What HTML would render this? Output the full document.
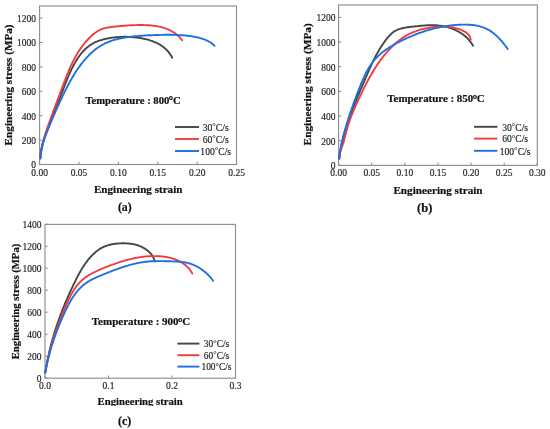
<!DOCTYPE html>
<html><head><meta charset="utf-8"><style>
html,body{margin:0;padding:0;background:#fff;}
svg{display:block;filter:blur(0.35px);font-family:"Liberation Serif","Times New Roman",serif;}
.n{fill:#222;stroke:#222;stroke-width:0.15px;}
.b{font-weight:bold;fill:#111;stroke:#111;stroke-width:0.2px;}
</style></head><body>
<svg width="550" height="429" viewBox="0 0 550 429">
<rect width="550" height="429" fill="#fff"/>
<defs><clipPath id="clipc"><rect x="0" y="0" width="550" height="405.7"/></clipPath></defs>
<rect x="39.6" y="6" width="196.90" height="158.50" fill="none" stroke="#8a8a8a" stroke-width="1.1"/>
<line x1="39.6" y1="164.50" x2="42.4" y2="164.50" stroke="#8a8a8a" stroke-width="1"/>
<text x="36.1" y="168.30" text-anchor="end" font-size="9.5" class="n">0</text>
<line x1="39.6" y1="140.10" x2="42.4" y2="140.10" stroke="#8a8a8a" stroke-width="1"/>
<text x="36.1" y="143.90" text-anchor="end" font-size="9.5" class="n">200</text>
<line x1="39.6" y1="115.70" x2="42.4" y2="115.70" stroke="#8a8a8a" stroke-width="1"/>
<text x="36.1" y="119.50" text-anchor="end" font-size="9.5" class="n">400</text>
<line x1="39.6" y1="91.30" x2="42.4" y2="91.30" stroke="#8a8a8a" stroke-width="1"/>
<text x="36.1" y="95.10" text-anchor="end" font-size="9.5" class="n">600</text>
<line x1="39.6" y1="66.90" x2="42.4" y2="66.90" stroke="#8a8a8a" stroke-width="1"/>
<text x="36.1" y="70.70" text-anchor="end" font-size="9.5" class="n">800</text>
<line x1="39.6" y1="42.50" x2="42.4" y2="42.50" stroke="#8a8a8a" stroke-width="1"/>
<text x="36.1" y="46.30" text-anchor="end" font-size="9.5" class="n">1000</text>
<line x1="39.6" y1="18.10" x2="42.4" y2="18.10" stroke="#8a8a8a" stroke-width="1"/>
<text x="36.1" y="21.90" text-anchor="end" font-size="9.5" class="n">1200</text>
<line x1="39.60" y1="161.7" x2="39.60" y2="164.5" stroke="#8a8a8a" stroke-width="1"/>
<text x="39.60" y="175.8" text-anchor="middle" font-size="9.5" class="n">0.00</text>
<line x1="79.00" y1="161.7" x2="79.00" y2="164.5" stroke="#8a8a8a" stroke-width="1"/>
<text x="79.00" y="175.8" text-anchor="middle" font-size="9.5" class="n">0.05</text>
<line x1="118.40" y1="161.7" x2="118.40" y2="164.5" stroke="#8a8a8a" stroke-width="1"/>
<text x="118.40" y="175.8" text-anchor="middle" font-size="9.5" class="n">0.10</text>
<line x1="157.80" y1="161.7" x2="157.80" y2="164.5" stroke="#8a8a8a" stroke-width="1"/>
<text x="157.80" y="175.8" text-anchor="middle" font-size="9.5" class="n">0.15</text>
<line x1="197.20" y1="161.7" x2="197.20" y2="164.5" stroke="#8a8a8a" stroke-width="1"/>
<text x="197.20" y="175.8" text-anchor="middle" font-size="9.5" class="n">0.20</text>
<line x1="236.60" y1="161.7" x2="236.60" y2="164.5" stroke="#8a8a8a" stroke-width="1"/>
<text x="236.60" y="175.8" text-anchor="middle" font-size="9.5" class="n">0.25</text>
<path d="M40.36,158.31 L40.4,157.6 L40.5,156.9 L40.6,156.1 L40.6,155.4 L40.7,154.7 L40.8,154.0 L40.9,153.3 L41.0,152.5 L41.1,151.8 L41.3,151.1 L41.4,150.4 L41.5,149.7 L41.7,149.0 L41.8,148.3 L41.9,147.6 L42.1,146.9 L42.3,146.2 L42.4,145.5 L42.6,144.8 L42.8,144.1 L42.9,143.4 L43.1,142.7 L43.3,142.0 L43.5,141.3 L43.7,140.6 L43.9,139.9 L44.1,139.2 L44.3,138.5 L44.5,137.8 L44.7,137.1 L45.0,136.5 L45.2,135.8 L45.4,135.1 L45.6,134.4 L45.9,133.7 L46.1,133.0 L46.3,132.4 L46.6,131.7 L46.8,131.0 L47.1,130.3 L47.3,129.6 L47.6,129.0 L47.8,128.3 L48.1,127.6 L48.3,126.9 L48.6,126.2 L48.8,125.6 L49.1,124.9 L49.4,124.2 L49.6,123.5 L49.9,122.9 L50.2,122.2 L50.4,121.5 L50.7,120.8 L50.9,120.2 L51.2,119.5 L51.5,118.8 L51.7,118.2 L52.0,117.5 L52.3,116.8 L52.5,116.1 L52.8,115.5 L53.1,114.8 L53.4,114.1 L53.6,113.5 L53.9,112.8 L54.2,112.1 L54.4,111.4 L54.7,110.8 L55.0,110.1 L55.2,109.4 L55.5,108.8 L55.8,108.1 L56.0,107.4 L56.3,106.7 L56.6,106.1 L56.8,105.4 L57.1,104.7 L57.4,104.1 L57.7,103.4 L57.9,102.7 L58.2,102.0 L58.5,101.4 L58.7,100.7 L59.0,100.0 L59.3,99.4 L59.5,98.7 L59.8,98.0 L60.1,97.3 L60.3,96.7 L60.6,96.0 L60.9,95.3 L61.1,94.7 L61.4,94.0 L61.6,93.3 L61.9,92.6 L62.2,92.0 L62.4,91.3 L62.7,90.6 L63.0,90.0 L63.2,89.3 L63.5,88.6 L63.7,87.9 L64.0,87.3 L64.2,86.6 L64.5,85.9 L64.8,85.3 L65.0,84.6 L65.3,83.9 L65.6,83.2 L65.8,82.6 L66.1,81.9 L66.3,81.2 L66.6,80.6 L66.9,79.9 L67.2,79.2 L67.4,78.6 L67.7,77.9 L68.0,77.2 L68.3,76.6 L68.5,75.9 L68.8,75.2 L69.1,74.6 L69.4,73.9 L69.7,73.3 L70.0,72.6 L70.3,71.9 L70.6,71.3 L70.9,70.6 L71.2,70.0 L71.5,69.3 L71.8,68.7 L72.2,68.0 L72.5,67.4 L72.8,66.8 L73.1,66.1 L73.5,65.5 L73.8,64.8 L74.2,64.2 L74.5,63.6 L74.9,62.9 L75.3,62.3 L75.6,61.7 L76.0,61.0 L76.4,60.4 L76.8,59.8 L77.2,59.2 L77.6,58.6 L78.0,57.9 L78.4,57.3 L78.8,56.7 L79.2,56.1 L79.7,55.5 L80.1,55.0 L80.5,54.4 L81.0,53.8 L81.4,53.2 L81.9,52.7 L82.4,52.1 L82.9,51.6 L83.4,51.1 L83.8,50.5 L84.3,50.0 L84.9,49.5 L85.4,49.0 L85.9,48.5 L86.4,48.0 L87.0,47.6 L87.5,47.1 L88.1,46.7 L88.6,46.2 L89.2,45.8 L89.8,45.4 L90.4,45.0 L91.0,44.6 L91.6,44.2 L92.2,43.9 L92.8,43.5 L93.4,43.2 L94.0,42.9 L94.7,42.5 L95.3,42.2 L96.0,41.9 L96.6,41.7 L97.3,41.4 L97.9,41.1 L98.6,40.9 L99.3,40.6 L100.0,40.4 L100.7,40.2 L101.4,40.0 L102.0,39.8 L102.7,39.6 L103.4,39.4 L104.1,39.2 L104.9,39.0 L105.6,38.9 L106.3,38.7 L107.0,38.6 L107.7,38.4 L108.4,38.3 L109.1,38.2 L109.9,38.1 L110.6,37.9 L111.3,37.8 L112.0,37.7 L112.7,37.6 L113.5,37.5 L114.2,37.5 L114.9,37.4 L115.6,37.3 L116.3,37.2 L117.1,37.2 L117.8,37.1 L118.5,37.1 L119.2,37.0 L119.9,37.0 L120.7,36.9 L121.4,36.9 L122.1,36.9 L122.8,36.9 L123.5,36.8 L124.3,36.8 L125.0,36.8 L125.7,36.8 L126.4,36.8 L127.1,36.9 L127.9,36.9 L128.6,36.9 L129.3,36.9 L130.0,37.0 L130.7,37.0 L131.5,37.1 L132.2,37.1 L132.9,37.2 L133.6,37.2 L134.4,37.3 L135.1,37.4 L135.8,37.5 L136.5,37.5 L137.2,37.6 L138.0,37.7 L138.7,37.8 L139.4,37.9 L140.1,38.0 L140.8,38.2 L141.6,38.3 L142.3,38.4 L143.0,38.6 L143.7,38.7 L144.4,38.9 L145.1,39.0 L145.8,39.2 L146.6,39.4 L147.3,39.5 L148.0,39.7 L148.7,39.9 L149.4,40.1 L150.1,40.3 L150.7,40.6 L151.4,40.8 L152.1,41.0 L152.8,41.3 L153.5,41.5 L154.1,41.8 L154.8,42.1 L155.4,42.4 L156.1,42.6 L156.7,42.9 L157.4,43.3 L158.0,43.6 L158.6,43.9 L159.3,44.3 L159.9,44.6 L160.5,45.0 L161.1,45.4 L161.7,45.8 L162.2,46.2 L162.8,46.6 L163.4,47.0 L163.9,47.5 L164.5,47.9 L165.0,48.4 L165.6,48.9 L166.1,49.3 L166.6,49.8 L167.1,50.4 L167.6,50.9 L168.0,51.4 L168.5,52.0 L169.0,52.6 L169.4,53.2 L169.8,53.8 L170.3,54.4 L170.7,55.0 L171.1,55.7 L171.4,56.3 L171.8,57.0 L172.2,57.7" fill="none" stroke="#454545" stroke-width="1.9" stroke-linecap="round" stroke-linejoin="round"/>
<path d="M40.21,158.27 L40.3,157.5 L40.3,156.7 L40.4,156.0 L40.5,155.2 L40.6,154.4 L40.7,153.7 L40.8,152.9 L40.9,152.2 L41.0,151.4 L41.1,150.6 L41.2,149.9 L41.4,149.1 L41.5,148.4 L41.7,147.6 L41.8,146.8 L42.0,146.1 L42.1,145.3 L42.3,144.6 L42.5,143.8 L42.7,143.1 L42.9,142.3 L43.1,141.6 L43.3,140.8 L43.5,140.1 L43.7,139.3 L43.9,138.6 L44.1,137.8 L44.3,137.1 L44.5,136.3 L44.8,135.6 L45.0,134.8 L45.2,134.1 L45.5,133.3 L45.7,132.6 L45.9,131.9 L46.2,131.1 L46.4,130.4 L46.7,129.6 L46.9,128.9 L47.2,128.2 L47.5,127.4 L47.7,126.7 L48.0,126.0 L48.2,125.2 L48.5,124.5 L48.8,123.8 L49.0,123.0 L49.3,122.3 L49.6,121.6 L49.8,120.8 L50.1,120.1 L50.3,119.4 L50.6,118.6 L50.9,117.9 L51.1,117.2 L51.4,116.5 L51.7,115.7 L51.9,115.0 L52.2,114.3 L52.5,113.6 L52.7,112.9 L53.0,112.1 L53.3,111.4 L53.5,110.7 L53.8,110.0 L54.1,109.3 L54.3,108.5 L54.6,107.8 L54.9,107.1 L55.2,106.4 L55.4,105.7 L55.7,104.9 L56.0,104.2 L56.2,103.5 L56.5,102.8 L56.8,102.1 L57.0,101.3 L57.3,100.6 L57.6,99.9 L57.8,99.2 L58.1,98.5 L58.4,97.7 L58.6,97.0 L58.9,96.3 L59.2,95.6 L59.5,94.8 L59.7,94.1 L60.0,93.4 L60.3,92.7 L60.5,91.9 L60.8,91.2 L61.1,90.5 L61.3,89.8 L61.6,89.0 L61.9,88.3 L62.2,87.6 L62.4,86.8 L62.7,86.1 L63.0,85.4 L63.2,84.6 L63.5,83.9 L63.8,83.2 L64.1,82.5 L64.3,81.7 L64.6,81.0 L64.9,80.3 L65.2,79.5 L65.5,78.8 L65.8,78.1 L66.0,77.3 L66.3,76.6 L66.6,75.9 L66.9,75.2 L67.2,74.4 L67.5,73.7 L67.8,73.0 L68.1,72.3 L68.4,71.5 L68.7,70.8 L69.0,70.1 L69.3,69.4 L69.6,68.7 L70.0,68.0 L70.3,67.2 L70.6,66.5 L70.9,65.8 L71.2,65.1 L71.6,64.4 L71.9,63.7 L72.3,63.0 L72.6,62.3 L72.9,61.6 L73.3,60.9 L73.6,60.2 L74.0,59.5 L74.4,58.9 L74.7,58.2 L75.1,57.5 L75.5,56.8 L75.8,56.1 L76.2,55.5 L76.6,54.8 L77.0,54.1 L77.4,53.5 L77.8,52.8 L78.2,52.2 L78.6,51.5 L79.0,50.9 L79.4,50.2 L79.9,49.6 L80.3,48.9 L80.7,48.3 L81.2,47.7 L81.6,47.1 L82.1,46.4 L82.5,45.8 L83.0,45.2 L83.5,44.6 L83.9,44.0 L84.4,43.4 L84.9,42.8 L85.4,42.2 L85.9,41.6 L86.4,41.0 L86.9,40.5 L87.4,39.9 L88.0,39.3 L88.5,38.8 L89.0,38.2 L89.6,37.7 L90.1,37.1 L90.7,36.6 L91.3,36.1 L91.8,35.5 L92.4,35.0 L93.0,34.5 L93.6,34.0 L94.2,33.5 L94.8,33.1 L95.4,32.6 L96.1,32.2 L96.7,31.7 L97.4,31.3 L98.0,30.9 L98.7,30.6 L99.4,30.2 L100.1,29.9 L100.8,29.5 L101.5,29.2 L102.2,29.0 L102.9,28.7 L103.6,28.5 L104.4,28.3 L105.1,28.1 L105.9,27.9 L106.7,27.7 L107.4,27.6 L108.2,27.5 L109.0,27.3 L109.7,27.2 L110.5,27.1 L111.3,27.0 L112.1,26.9 L112.9,26.8 L113.7,26.7 L114.4,26.7 L115.2,26.6 L116.0,26.5 L116.8,26.4 L117.5,26.3 L118.3,26.3 L119.1,26.2 L119.8,26.1 L120.6,26.0 L121.4,26.0 L122.1,25.9 L122.9,25.8 L123.7,25.8 L124.4,25.7 L125.2,25.6 L126.0,25.6 L126.7,25.5 L127.5,25.5 L128.3,25.4 L129.0,25.4 L129.8,25.3 L130.6,25.3 L131.3,25.3 L132.1,25.2 L132.9,25.2 L133.6,25.2 L134.4,25.1 L135.2,25.1 L135.9,25.1 L136.7,25.1 L137.5,25.0 L138.3,25.0 L139.0,25.0 L139.8,25.0 L140.6,25.0 L141.4,25.0 L142.2,25.0 L143.0,25.0 L143.7,25.0 L144.5,25.1 L145.3,25.1 L146.1,25.1 L146.9,25.1 L147.7,25.2 L148.5,25.2 L149.3,25.3 L150.0,25.4 L150.8,25.4 L151.6,25.5 L152.4,25.6 L153.2,25.7 L154.0,25.8 L154.7,25.9 L155.5,26.0 L156.3,26.1 L157.0,26.2 L157.8,26.4 L158.6,26.5 L159.3,26.7 L160.1,26.9 L160.8,27.0 L161.6,27.2 L162.3,27.4 L163.1,27.6 L163.8,27.9 L164.5,28.1 L165.2,28.3 L166.0,28.6 L166.7,28.9 L167.4,29.1 L168.1,29.4 L168.8,29.7 L169.5,30.1 L170.1,30.4 L170.8,30.7 L171.5,31.1 L172.2,31.5 L172.8,31.9 L173.4,32.3 L174.1,32.7 L174.7,33.1 L175.3,33.6 L175.9,34.0 L176.5,34.5 L177.1,35.0 L177.7,35.5 L178.3,36.0 L178.9,36.6 L179.4,37.1 L180.0,37.7 L180.5,38.3 L181.0,38.9 L181.5,39.5 L182.1,40.2" fill="none" stroke="#ee3c42" stroke-width="1.9" stroke-linecap="round" stroke-linejoin="round"/>
<path d="M40.45,158.43 L40.5,157.6 L40.5,156.7 L40.6,155.9 L40.6,155.1 L40.7,154.2 L40.8,153.4 L40.9,152.6 L41.0,151.7 L41.1,150.9 L41.3,150.1 L41.4,149.3 L41.6,148.5 L41.8,147.7 L42.0,146.9 L42.2,146.1 L42.4,145.3 L42.6,144.5 L42.8,143.7 L43.1,142.9 L43.3,142.1 L43.5,141.3 L43.8,140.5 L44.1,139.7 L44.3,138.9 L44.6,138.1 L44.9,137.4 L45.2,136.6 L45.5,135.8 L45.8,135.0 L46.1,134.3 L46.4,133.5 L46.7,132.7 L47.0,131.9 L47.3,131.2 L47.6,130.4 L47.9,129.6 L48.2,128.9 L48.5,128.1 L48.9,127.3 L49.2,126.5 L49.5,125.8 L49.8,125.0 L50.1,124.2 L50.4,123.5 L50.8,122.7 L51.1,121.9 L51.4,121.2 L51.7,120.4 L52.0,119.6 L52.4,118.9 L52.7,118.1 L53.0,117.3 L53.3,116.6 L53.7,115.8 L54.0,115.1 L54.3,114.3 L54.7,113.5 L55.0,112.8 L55.3,112.0 L55.7,111.2 L56.0,110.5 L56.3,109.7 L56.7,109.0 L57.0,108.2 L57.3,107.5 L57.7,106.7 L58.0,105.9 L58.4,105.2 L58.7,104.4 L59.1,103.7 L59.4,102.9 L59.7,102.2 L60.1,101.4 L60.4,100.7 L60.8,99.9 L61.2,99.2 L61.5,98.4 L61.9,97.7 L62.2,96.9 L62.6,96.2 L62.9,95.4 L63.3,94.7 L63.7,93.9 L64.0,93.2 L64.4,92.4 L64.8,91.7 L65.1,90.9 L65.5,90.2 L65.9,89.4 L66.3,88.7 L66.6,88.0 L67.0,87.2 L67.4,86.5 L67.8,85.7 L68.2,85.0 L68.6,84.3 L68.9,83.5 L69.3,82.8 L69.7,82.1 L70.1,81.3 L70.5,80.6 L70.9,79.9 L71.4,79.2 L71.8,78.4 L72.2,77.7 L72.6,77.0 L73.0,76.3 L73.5,75.6 L73.9,74.9 L74.3,74.2 L74.8,73.4 L75.2,72.7 L75.6,72.0 L76.1,71.4 L76.5,70.7 L77.0,70.0 L77.5,69.3 L77.9,68.6 L78.4,67.9 L78.9,67.2 L79.4,66.6 L79.9,65.9 L80.4,65.2 L80.9,64.6 L81.4,63.9 L81.9,63.3 L82.4,62.6 L82.9,62.0 L83.4,61.3 L84.0,60.7 L84.5,60.0 L85.0,59.4 L85.6,58.8 L86.2,58.2 L86.7,57.6 L87.3,56.9 L87.9,56.3 L88.5,55.7 L89.0,55.1 L89.6,54.6 L90.2,54.0 L90.8,53.4 L91.5,52.8 L92.1,52.3 L92.7,51.7 L93.3,51.2 L94.0,50.6 L94.6,50.1 L95.3,49.6 L95.9,49.1 L96.6,48.6 L97.3,48.1 L97.9,47.6 L98.6,47.2 L99.3,46.7 L100.0,46.2 L100.7,45.8 L101.4,45.4 L102.1,45.0 L102.9,44.6 L103.6,44.2 L104.3,43.8 L105.0,43.4 L105.8,43.1 L106.5,42.7 L107.3,42.4 L108.1,42.1 L108.8,41.8 L109.6,41.5 L110.4,41.2 L111.1,40.9 L111.9,40.6 L112.7,40.4 L113.5,40.1 L114.3,39.9 L115.1,39.7 L115.9,39.5 L116.7,39.3 L117.5,39.1 L118.3,38.9 L119.1,38.7 L119.9,38.5 L120.7,38.3 L121.6,38.2 L122.4,38.0 L123.2,37.9 L124.0,37.7 L124.9,37.6 L125.7,37.4 L126.5,37.3 L127.3,37.2 L128.2,37.1 L129.0,37.0 L129.8,36.9 L130.7,36.8 L131.5,36.7 L132.3,36.6 L133.1,36.5 L134.0,36.4 L134.8,36.3 L135.6,36.2 L136.5,36.1 L137.3,36.1 L138.1,36.0 L138.9,35.9 L139.8,35.9 L140.6,35.8 L141.4,35.7 L142.2,35.7 L143.1,35.6 L143.9,35.6 L144.7,35.5 L145.5,35.5 L146.4,35.4 L147.2,35.4 L148.0,35.3 L148.8,35.3 L149.7,35.3 L150.5,35.2 L151.3,35.2 L152.2,35.2 L153.0,35.1 L153.8,35.1 L154.6,35.1 L155.5,35.0 L156.3,35.0 L157.1,35.0 L158.0,35.0 L158.8,35.0 L159.6,34.9 L160.4,34.9 L161.3,34.9 L162.1,34.9 L162.9,34.9 L163.8,34.9 L164.6,34.8 L165.4,34.8 L166.3,34.8 L167.1,34.8 L167.9,34.8 L168.8,34.8 L169.6,34.8 L170.4,34.8 L171.3,34.8 L172.1,34.8 L173.0,34.9 L173.8,34.9 L174.6,34.9 L175.5,34.9 L176.3,35.0 L177.1,35.0 L178.0,35.0 L178.8,35.1 L179.6,35.1 L180.5,35.2 L181.3,35.2 L182.1,35.3 L182.9,35.3 L183.8,35.4 L184.6,35.5 L185.4,35.5 L186.3,35.6 L187.1,35.7 L187.9,35.8 L188.7,35.9 L189.6,36.0 L190.4,36.1 L191.2,36.3 L192.0,36.4 L192.9,36.5 L193.7,36.7 L194.5,36.8 L195.3,37.0 L196.1,37.1 L196.9,37.3 L197.8,37.5 L198.6,37.7 L199.4,37.9 L200.2,38.1 L201.0,38.3 L201.8,38.5 L202.5,38.8 L203.3,39.1 L204.1,39.3 L204.9,39.6 L205.6,39.9 L206.4,40.3 L207.1,40.6 L207.9,41.0 L208.6,41.4 L209.3,41.8 L210.0,42.2 L210.7,42.6 L211.4,43.1 L212.0,43.6 L212.7,44.1 L213.3,44.7 L214.0,45.2 L214.6,45.8" fill="none" stroke="#1e6fe0" stroke-width="1.9" stroke-linecap="round" stroke-linejoin="round"/>
<line x1="175" y1="127" x2="199" y2="127" stroke="#454545" stroke-width="1.9"/>
<text x="215.7" y="130.87" text-anchor="middle" font-size="9.6" class="n">30<tspan font-size="92%" dy="-1.6" style="stroke-width:0.1px">°</tspan><tspan dy="1.6">C/s</tspan></text>
<line x1="175" y1="139" x2="199" y2="139" stroke="#ee3c42" stroke-width="1.9"/>
<text x="215.7" y="142.87" text-anchor="middle" font-size="9.6" class="n">60<tspan font-size="92%" dy="-1.6" style="stroke-width:0.1px">°</tspan><tspan dy="1.6">C/s</tspan></text>
<line x1="175" y1="151" x2="199" y2="151" stroke="#1e6fe0" stroke-width="1.9"/>
<text x="215.7" y="154.87" text-anchor="middle" font-size="9.6" class="n">100<tspan font-size="92%" dy="-1.6" style="stroke-width:0.1px">°</tspan><tspan dy="1.6">C/s</tspan></text>
<text x="133" y="103.6" text-anchor="middle" font-size="10.65" class="b">Temperature : 800<tspan dx="-0.5" dy="0.5" style="stroke-width:0.4px">°</tspan><tspan dx="-0.2" dy="-0.5">C</tspan></text>
<text x="138.2" y="193.2" text-anchor="middle" font-size="11.1" class="b">Engineering strain</text>
<text transform="translate(12.3,84.9) rotate(-90)" x="0" y="0" text-anchor="middle" font-size="11.2" class="b">Engineering stress (MPa)</text>
<text x="124.8" y="210.8" text-anchor="middle" font-size="11.8" class="b">(a)</text>
<rect x="338.6" y="5" width="198.70" height="160.40" fill="none" stroke="#8a8a8a" stroke-width="1.1"/>
<line x1="338.6" y1="165.40" x2="341.40000000000003" y2="165.40" stroke="#8a8a8a" stroke-width="1"/>
<text x="335.4" y="169.20" text-anchor="end" font-size="9.5" class="n">0</text>
<line x1="338.6" y1="140.73" x2="341.40000000000003" y2="140.73" stroke="#8a8a8a" stroke-width="1"/>
<text x="335.4" y="144.53" text-anchor="end" font-size="9.5" class="n">200</text>
<line x1="338.6" y1="116.07" x2="341.40000000000003" y2="116.07" stroke="#8a8a8a" stroke-width="1"/>
<text x="335.4" y="119.87" text-anchor="end" font-size="9.5" class="n">400</text>
<line x1="338.6" y1="91.40" x2="341.40000000000003" y2="91.40" stroke="#8a8a8a" stroke-width="1"/>
<text x="335.4" y="95.20" text-anchor="end" font-size="9.5" class="n">600</text>
<line x1="338.6" y1="66.74" x2="341.40000000000003" y2="66.74" stroke="#8a8a8a" stroke-width="1"/>
<text x="335.4" y="70.54" text-anchor="end" font-size="9.5" class="n">800</text>
<line x1="338.6" y1="42.07" x2="341.40000000000003" y2="42.07" stroke="#8a8a8a" stroke-width="1"/>
<text x="335.4" y="45.87" text-anchor="end" font-size="9.5" class="n">1000</text>
<line x1="338.6" y1="17.40" x2="341.40000000000003" y2="17.40" stroke="#8a8a8a" stroke-width="1"/>
<text x="335.4" y="21.20" text-anchor="end" font-size="9.5" class="n">1200</text>
<line x1="338.60" y1="162.6" x2="338.60" y2="165.4" stroke="#8a8a8a" stroke-width="1"/>
<text x="338.60" y="176.3" text-anchor="middle" font-size="9.5" class="n">0.00</text>
<line x1="371.72" y1="162.6" x2="371.72" y2="165.4" stroke="#8a8a8a" stroke-width="1"/>
<text x="371.72" y="176.3" text-anchor="middle" font-size="9.5" class="n">0.05</text>
<line x1="404.83" y1="162.6" x2="404.83" y2="165.4" stroke="#8a8a8a" stroke-width="1"/>
<text x="404.83" y="176.3" text-anchor="middle" font-size="9.5" class="n">0.10</text>
<line x1="437.94" y1="162.6" x2="437.94" y2="165.4" stroke="#8a8a8a" stroke-width="1"/>
<text x="437.94" y="176.3" text-anchor="middle" font-size="9.5" class="n">0.15</text>
<line x1="471.06" y1="162.6" x2="471.06" y2="165.4" stroke="#8a8a8a" stroke-width="1"/>
<text x="471.06" y="176.3" text-anchor="middle" font-size="9.5" class="n">0.20</text>
<line x1="504.18" y1="162.6" x2="504.18" y2="165.4" stroke="#8a8a8a" stroke-width="1"/>
<text x="504.18" y="176.3" text-anchor="middle" font-size="9.5" class="n">0.25</text>
<line x1="537.29" y1="162.6" x2="537.29" y2="165.4" stroke="#8a8a8a" stroke-width="1"/>
<text x="537.29" y="176.3" text-anchor="middle" font-size="9.5" class="n">0.30</text>
<path d="M339.25,158.61 L339.3,157.8 L339.4,157.1 L339.5,156.3 L339.6,155.6 L339.7,154.8 L339.8,154.1 L339.9,153.3 L340.0,152.6 L340.2,151.8 L340.3,151.1 L340.4,150.3 L340.5,149.6 L340.7,148.8 L340.8,148.1 L340.9,147.3 L341.1,146.6 L341.2,145.8 L341.4,145.1 L341.5,144.3 L341.7,143.6 L341.9,142.9 L342.0,142.1 L342.2,141.4 L342.4,140.6 L342.6,139.9 L342.7,139.2 L342.9,138.4 L343.1,137.7 L343.3,137.0 L343.5,136.2 L343.7,135.5 L343.9,134.8 L344.1,134.0 L344.3,133.3 L344.5,132.6 L344.7,131.8 L344.9,131.1 L345.1,130.4 L345.4,129.6 L345.6,128.9 L345.8,128.2 L346.0,127.5 L346.3,126.7 L346.5,126.0 L346.7,125.3 L347.0,124.6 L347.2,123.9 L347.4,123.1 L347.7,122.4 L347.9,121.7 L348.2,121.0 L348.4,120.3 L348.7,119.5 L348.9,118.8 L349.2,118.1 L349.4,117.4 L349.7,116.7 L350.0,116.0 L350.2,115.3 L350.5,114.5 L350.8,113.8 L351.0,113.1 L351.3,112.4 L351.6,111.7 L351.8,111.0 L352.1,110.3 L352.4,109.6 L352.7,108.9 L352.9,108.1 L353.2,107.4 L353.5,106.7 L353.8,106.0 L354.1,105.3 L354.4,104.6 L354.6,103.9 L354.9,103.2 L355.2,102.5 L355.5,101.8 L355.8,101.1 L356.1,100.4 L356.4,99.7 L356.7,99.0 L357.0,98.3 L357.3,97.6 L357.6,96.9 L357.9,96.2 L358.1,95.5 L358.4,94.8 L358.7,94.1 L359.0,93.4 L359.3,92.7 L359.6,92.0 L359.9,91.3 L360.2,90.6 L360.5,89.9 L360.8,89.2 L361.1,88.5 L361.4,87.8 L361.7,87.1 L362.0,86.4 L362.3,85.7 L362.6,85.0 L362.9,84.3 L363.2,83.6 L363.5,82.9 L363.8,82.2 L364.1,81.5 L364.4,80.8 L364.7,80.1 L365.0,79.4 L365.3,78.7 L365.6,78.0 L365.9,77.3 L366.2,76.6 L366.5,75.9 L366.8,75.3 L367.1,74.6 L367.4,73.9 L367.7,73.2 L368.0,72.5 L368.3,71.8 L368.6,71.1 L368.9,70.4 L369.2,69.7 L369.5,69.0 L369.8,68.3 L370.2,67.6 L370.5,66.9 L370.8,66.2 L371.1,65.5 L371.4,64.8 L371.7,64.2 L372.0,63.5 L372.4,62.8 L372.7,62.1 L373.0,61.4 L373.4,60.7 L373.7,60.0 L374.0,59.3 L374.4,58.7 L374.7,58.0 L375.1,57.3 L375.4,56.6 L375.8,56.0 L376.1,55.3 L376.5,54.6 L376.9,53.9 L377.2,53.3 L377.6,52.6 L378.0,51.9 L378.4,51.3 L378.7,50.6 L379.1,50.0 L379.5,49.3 L379.9,48.6 L380.3,48.0 L380.7,47.3 L381.1,46.7 L381.6,46.1 L382.0,45.4 L382.4,44.8 L382.8,44.2 L383.3,43.5 L383.7,42.9 L384.1,42.3 L384.6,41.7 L385.0,41.1 L385.5,40.4 L385.9,39.8 L386.4,39.2 L386.9,38.6 L387.3,38.0 L387.8,37.5 L388.3,36.9 L388.8,36.3 L389.3,35.8 L389.8,35.2 L390.4,34.7 L390.9,34.1 L391.4,33.6 L392.0,33.1 L392.6,32.7 L393.1,32.2 L393.7,31.8 L394.3,31.4 L395.0,31.0 L395.6,30.6 L396.3,30.3 L397.0,30.0 L397.7,29.7 L398.4,29.4 L399.1,29.2 L399.8,28.9 L400.6,28.7 L401.3,28.5 L402.0,28.3 L402.8,28.2 L403.5,28.0 L404.3,27.8 L405.1,27.7 L405.8,27.6 L406.6,27.4 L407.3,27.3 L408.1,27.2 L408.9,27.1 L409.6,27.0 L410.4,26.9 L411.1,26.8 L411.9,26.7 L412.7,26.6 L413.4,26.5 L414.2,26.5 L415.0,26.4 L415.7,26.3 L416.5,26.2 L417.2,26.1 L418.0,26.1 L418.8,26.0 L419.5,25.9 L420.3,25.8 L421.0,25.8 L421.8,25.7 L422.6,25.6 L423.3,25.6 L424.1,25.5 L424.8,25.5 L425.6,25.4 L426.3,25.4 L427.1,25.3 L427.9,25.3 L428.6,25.3 L429.4,25.2 L430.1,25.2 L430.9,25.2 L431.6,25.2 L432.4,25.2 L433.1,25.2 L433.9,25.2 L434.6,25.2 L435.4,25.3 L436.1,25.3 L436.9,25.4 L437.6,25.4 L438.4,25.5 L439.1,25.6 L439.9,25.6 L440.6,25.7 L441.4,25.9 L442.1,26.0 L442.9,26.1 L443.6,26.2 L444.4,26.4 L445.1,26.5 L445.8,26.7 L446.6,26.9 L447.3,27.1 L448.1,27.3 L448.8,27.5 L449.5,27.8 L450.3,28.0 L451.0,28.2 L451.7,28.5 L452.4,28.8 L453.1,29.1 L453.9,29.4 L454.6,29.7 L455.3,30.0 L456.0,30.3 L456.6,30.6 L457.3,31.0 L458.0,31.4 L458.7,31.7 L459.3,32.1 L460.0,32.5 L460.6,32.9 L461.3,33.3 L461.9,33.8 L462.5,34.2 L463.1,34.6 L463.7,35.1 L464.3,35.6 L464.9,36.0 L465.5,36.5 L466.1,37.0 L466.6,37.5 L467.2,38.1 L467.7,38.6 L468.2,39.1 L468.7,39.7 L469.2,40.3 L469.7,40.8 L470.2,41.4 L470.6,42.0 L471.1,42.6 L471.5,43.3 L471.9,43.9 L472.3,44.5 L472.7,45.2 L473.1,45.8" fill="none" stroke="#454545" stroke-width="1.9" stroke-linecap="round" stroke-linejoin="round"/>
<path d="M339.41,158.61 L339.4,157.9 L339.4,157.1 L339.4,156.4 L339.5,155.7 L339.6,154.9 L339.7,154.2 L339.8,153.5 L340.0,152.9 L340.1,152.2 L340.3,151.5 L340.5,150.8 L340.8,150.1 L341.0,149.5 L341.2,148.8 L341.5,148.1 L341.7,147.5 L342.0,146.8 L342.2,146.1 L342.5,145.5 L342.7,144.8 L342.9,144.1 L343.2,143.4 L343.4,142.8 L343.6,142.1 L343.8,141.4 L344.0,140.7 L344.2,140.0 L344.4,139.3 L344.5,138.6 L344.7,137.9 L344.9,137.2 L345.1,136.5 L345.3,135.8 L345.4,135.1 L345.6,134.4 L345.8,133.7 L346.0,133.0 L346.1,132.3 L346.3,131.6 L346.5,130.9 L346.7,130.2 L346.9,129.5 L347.1,128.8 L347.3,128.1 L347.5,127.4 L347.7,126.7 L347.9,126.1 L348.1,125.4 L348.3,124.7 L348.5,124.0 L348.7,123.3 L349.0,122.7 L349.2,122.0 L349.4,121.3 L349.7,120.6 L349.9,120.0 L350.1,119.3 L350.4,118.6 L350.6,117.9 L350.9,117.3 L351.1,116.6 L351.4,115.9 L351.7,115.3 L351.9,114.6 L352.2,113.9 L352.4,113.3 L352.7,112.6 L353.0,112.0 L353.3,111.3 L353.5,110.6 L353.8,110.0 L354.1,109.3 L354.4,108.7 L354.7,108.0 L354.9,107.4 L355.2,106.7 L355.5,106.0 L355.8,105.4 L356.1,104.7 L356.4,104.1 L356.7,103.4 L357.0,102.8 L357.3,102.1 L357.6,101.5 L357.9,100.8 L358.2,100.2 L358.5,99.5 L358.8,98.9 L359.1,98.2 L359.4,97.6 L359.7,96.9 L360.0,96.3 L360.3,95.6 L360.6,95.0 L360.9,94.3 L361.2,93.7 L361.5,93.0 L361.9,92.4 L362.2,91.7 L362.5,91.1 L362.8,90.4 L363.1,89.8 L363.4,89.1 L363.8,88.5 L364.1,87.8 L364.4,87.2 L364.7,86.5 L365.0,85.9 L365.4,85.2 L365.7,84.6 L366.0,83.9 L366.4,83.3 L366.7,82.7 L367.0,82.0 L367.4,81.4 L367.7,80.8 L368.0,80.1 L368.4,79.5 L368.7,78.9 L369.1,78.2 L369.4,77.6 L369.8,77.0 L370.1,76.3 L370.5,75.7 L370.8,75.1 L371.2,74.5 L371.6,73.8 L371.9,73.2 L372.3,72.6 L372.7,72.0 L373.0,71.4 L373.4,70.7 L373.8,70.1 L374.2,69.5 L374.5,68.9 L374.9,68.3 L375.3,67.7 L375.7,67.1 L376.1,66.5 L376.5,65.9 L376.9,65.3 L377.3,64.7 L377.7,64.1 L378.1,63.5 L378.5,62.9 L378.9,62.3 L379.3,61.8 L379.7,61.2 L380.2,60.6 L380.6,60.0 L381.0,59.4 L381.4,58.9 L381.9,58.3 L382.3,57.7 L382.7,57.2 L383.2,56.6 L383.6,56.0 L384.1,55.5 L384.5,54.9 L385.0,54.4 L385.4,53.8 L385.9,53.3 L386.4,52.8 L386.8,52.2 L387.3,51.7 L387.8,51.1 L388.3,50.6 L388.8,50.1 L389.2,49.6 L389.7,49.0 L390.2,48.5 L390.7,48.0 L391.2,47.5 L391.7,47.0 L392.2,46.5 L392.8,46.0 L393.3,45.5 L393.8,45.0 L394.3,44.5 L394.9,44.0 L395.4,43.5 L395.9,43.1 L396.5,42.6 L397.0,42.1 L397.6,41.7 L398.1,41.2 L398.7,40.8 L399.3,40.3 L399.8,39.9 L400.4,39.5 L401.0,39.0 L401.6,38.6 L402.1,38.2 L402.7,37.8 L403.3,37.4 L403.9,37.0 L404.5,36.6 L405.1,36.3 L405.7,35.9 L406.4,35.5 L407.0,35.2 L407.6,34.8 L408.2,34.5 L408.9,34.2 L409.5,33.8 L410.2,33.5 L410.8,33.2 L411.5,32.9 L412.1,32.6 L412.8,32.4 L413.4,32.1 L414.1,31.8 L414.8,31.6 L415.5,31.3 L416.1,31.1 L416.8,30.8 L417.5,30.6 L418.2,30.4 L418.9,30.2 L419.6,29.9 L420.3,29.7 L421.0,29.5 L421.7,29.4 L422.4,29.2 L423.1,29.0 L423.8,28.8 L424.5,28.7 L425.2,28.5 L425.9,28.4 L426.6,28.2 L427.3,28.1 L428.0,28.0 L428.7,27.8 L429.5,27.7 L430.2,27.6 L430.9,27.5 L431.6,27.4 L432.3,27.3 L433.0,27.2 L433.8,27.1 L434.5,27.1 L435.2,27.0 L435.9,26.9 L436.6,26.9 L437.3,26.8 L438.1,26.8 L438.8,26.7 L439.5,26.7 L440.2,26.7 L440.9,26.6 L441.6,26.6 L442.3,26.6 L443.0,26.6 L443.8,26.6 L444.5,26.6 L445.2,26.7 L445.9,26.7 L446.6,26.7 L447.3,26.8 L448.0,26.8 L448.7,26.9 L449.4,27.0 L450.1,27.1 L450.8,27.2 L451.5,27.3 L452.2,27.4 L452.9,27.5 L453.6,27.6 L454.3,27.8 L455.0,28.0 L455.7,28.1 L456.4,28.3 L457.1,28.5 L457.8,28.7 L458.5,28.9 L459.2,29.2 L459.9,29.4 L460.5,29.7 L461.2,30.0 L461.9,30.3 L462.6,30.6 L463.3,30.9 L463.9,31.2 L464.6,31.6 L465.2,31.9 L465.8,32.3 L466.4,32.8 L466.9,33.2 L467.5,33.7 L468.0,34.2 L468.4,34.7 L468.9,35.2 L469.3,35.8 L469.6,36.4 L470.0,37.0 L470.2,37.6 L470.5,38.3 L470.6,39.0 L470.8,39.8" fill="none" stroke="#ee3c42" stroke-width="1.9" stroke-linecap="round" stroke-linejoin="round"/>
<path d="M339.37,158.57 L339.4,157.7 L339.5,156.9 L339.6,156.0 L339.7,155.2 L339.8,154.4 L339.9,153.5 L340.0,152.7 L340.1,151.8 L340.3,151.0 L340.4,150.1 L340.5,149.3 L340.7,148.4 L340.8,147.6 L341.0,146.7 L341.1,145.9 L341.3,145.0 L341.5,144.2 L341.7,143.3 L341.8,142.5 L342.0,141.7 L342.2,140.8 L342.4,140.0 L342.6,139.1 L342.8,138.3 L343.0,137.4 L343.2,136.6 L343.4,135.7 L343.7,134.9 L343.9,134.1 L344.1,133.2 L344.3,132.4 L344.5,131.6 L344.8,130.7 L345.0,129.9 L345.2,129.1 L345.5,128.2 L345.7,127.4 L346.0,126.6 L346.2,125.8 L346.4,124.9 L346.7,124.1 L346.9,123.3 L347.2,122.5 L347.4,121.7 L347.7,120.9 L348.0,120.0 L348.2,119.2 L348.5,118.4 L348.7,117.6 L349.0,116.8 L349.3,116.0 L349.5,115.2 L349.8,114.4 L350.1,113.6 L350.3,112.7 L350.6,111.9 L350.9,111.1 L351.2,110.3 L351.4,109.5 L351.7,108.7 L352.0,107.9 L352.3,107.1 L352.6,106.3 L352.9,105.5 L353.1,104.7 L353.4,103.9 L353.7,103.1 L354.0,102.3 L354.3,101.5 L354.6,100.7 L354.9,99.9 L355.2,99.1 L355.5,98.3 L355.8,97.5 L356.1,96.7 L356.4,95.9 L356.7,95.0 L357.0,94.2 L357.3,93.4 L357.6,92.6 L357.9,91.8 L358.2,91.0 L358.6,90.2 L358.9,89.4 L359.2,88.6 L359.5,87.8 L359.8,87.0 L360.1,86.1 L360.5,85.3 L360.8,84.5 L361.1,83.7 L361.4,82.9 L361.8,82.1 L362.1,81.3 L362.5,80.5 L362.8,79.7 L363.2,78.9 L363.5,78.1 L363.9,77.3 L364.2,76.5 L364.6,75.7 L365.0,75.0 L365.4,74.2 L365.7,73.4 L366.1,72.6 L366.5,71.9 L366.9,71.1 L367.4,70.4 L367.8,69.6 L368.2,68.9 L368.6,68.1 L369.1,67.4 L369.5,66.7 L370.0,66.0 L370.4,65.3 L370.9,64.6 L371.4,63.9 L371.9,63.2 L372.4,62.5 L372.9,61.8 L373.4,61.2 L374.0,60.5 L374.5,59.8 L375.1,59.2 L375.6,58.6 L376.2,58.0 L376.8,57.4 L377.4,56.7 L378.0,56.2 L378.6,55.6 L379.2,55.0 L379.8,54.4 L380.5,53.9 L381.1,53.3 L381.8,52.8 L382.5,52.3 L383.1,51.7 L383.8,51.2 L384.5,50.7 L385.2,50.2 L385.9,49.7 L386.6,49.2 L387.3,48.7 L388.1,48.2 L388.8,47.8 L389.5,47.3 L390.3,46.9 L391.0,46.4 L391.8,46.0 L392.5,45.5 L393.3,45.1 L394.0,44.6 L394.8,44.2 L395.5,43.8 L396.3,43.4 L397.1,43.0 L397.8,42.6 L398.6,42.2 L399.4,41.8 L400.1,41.4 L400.9,41.0 L401.7,40.6 L402.5,40.2 L403.2,39.8 L404.0,39.4 L404.8,39.1 L405.6,38.7 L406.4,38.3 L407.1,38.0 L407.9,37.6 L408.7,37.3 L409.5,36.9 L410.3,36.6 L411.1,36.3 L411.9,35.9 L412.7,35.6 L413.4,35.3 L414.2,35.0 L415.0,34.6 L415.8,34.3 L416.6,34.0 L417.4,33.7 L418.2,33.4 L419.0,33.1 L419.8,32.8 L420.6,32.6 L421.4,32.3 L422.3,32.0 L423.1,31.7 L423.9,31.5 L424.7,31.2 L425.5,30.9 L426.3,30.7 L427.1,30.4 L428.0,30.2 L428.8,30.0 L429.6,29.7 L430.4,29.5 L431.2,29.3 L432.1,29.1 L432.9,28.8 L433.7,28.6 L434.5,28.4 L435.4,28.2 L436.2,28.0 L437.0,27.9 L437.9,27.7 L438.7,27.5 L439.5,27.3 L440.4,27.1 L441.2,27.0 L442.1,26.8 L442.9,26.7 L443.8,26.5 L444.6,26.4 L445.5,26.2 L446.3,26.1 L447.2,26.0 L448.0,25.9 L448.9,25.7 L449.7,25.6 L450.6,25.5 L451.4,25.4 L452.3,25.3 L453.2,25.2 L454.0,25.2 L454.9,25.1 L455.7,25.0 L456.6,24.9 L457.5,24.9 L458.4,24.8 L459.2,24.8 L460.1,24.7 L461.0,24.7 L461.8,24.6 L462.7,24.6 L463.6,24.6 L464.5,24.6 L465.3,24.6 L466.2,24.6 L467.1,24.6 L468.0,24.7 L468.8,24.7 L469.7,24.7 L470.5,24.8 L471.4,24.9 L472.3,25.0 L473.1,25.1 L474.0,25.2 L474.8,25.3 L475.7,25.4 L476.5,25.6 L477.3,25.8 L478.2,25.9 L479.0,26.1 L479.8,26.3 L480.6,26.6 L481.4,26.8 L482.2,27.1 L483.0,27.3 L483.8,27.6 L484.6,27.9 L485.4,28.3 L486.1,28.6 L486.9,29.0 L487.6,29.4 L488.4,29.8 L489.1,30.2 L489.8,30.6 L490.5,31.1 L491.3,31.6 L492.0,32.1 L492.6,32.6 L493.3,33.1 L494.0,33.6 L494.7,34.2 L495.3,34.8 L496.0,35.3 L496.6,35.9 L497.3,36.5 L497.9,37.1 L498.5,37.7 L499.1,38.4 L499.7,39.0 L500.3,39.6 L500.9,40.3 L501.5,40.9 L502.1,41.6 L502.6,42.3 L503.2,42.9 L503.7,43.6 L504.3,44.3 L504.8,45.0 L505.3,45.6 L505.8,46.3 L506.3,47.0 L506.8,47.7 L507.3,48.4 L507.8,49.0" fill="none" stroke="#1e6fe0" stroke-width="1.9" stroke-linecap="round" stroke-linejoin="round"/>
<line x1="474" y1="126.8" x2="497.4" y2="126.8" stroke="#454545" stroke-width="1.9"/>
<text x="515.1" y="130.67" text-anchor="middle" font-size="9.6" class="n">30<tspan font-size="92%" dy="-1.6" style="stroke-width:0.1px">°</tspan><tspan dy="1.6">C/s</tspan></text>
<line x1="474" y1="138.6" x2="497.4" y2="138.6" stroke="#ee3c42" stroke-width="1.9"/>
<text x="515.1" y="142.47" text-anchor="middle" font-size="9.6" class="n">60<tspan font-size="92%" dy="-1.6" style="stroke-width:0.1px">°</tspan><tspan dy="1.6">C/s</tspan></text>
<line x1="474" y1="150.8" x2="497.4" y2="150.8" stroke="#1e6fe0" stroke-width="1.9"/>
<text x="515.1" y="154.67" text-anchor="middle" font-size="9.6" class="n">100<tspan font-size="92%" dy="-1.6" style="stroke-width:0.1px">°</tspan><tspan dy="1.6">C/s</tspan></text>
<text x="436" y="102.2" text-anchor="middle" font-size="10.88" class="b">Temperature : 850<tspan dx="-0.5" dy="0.5" style="stroke-width:0.4px">°</tspan><tspan dx="-0.2" dy="-0.5">C</tspan></text>
<text x="438" y="193.5" text-anchor="middle" font-size="11.2" class="b">Engineering strain</text>
<text transform="translate(310.8,84.3) rotate(-90)" x="0" y="0" text-anchor="middle" font-size="11.3" class="b">Engineering stress (MPa)</text>
<text x="424.7" y="211.5" text-anchor="middle" font-size="12.5" class="b">(b)</text>
<rect x="45" y="224.4" width="190.50" height="153.80" fill="none" stroke="#8a8a8a" stroke-width="1.1"/>
<line x1="45" y1="378.20" x2="47.8" y2="378.20" stroke="#8a8a8a" stroke-width="1"/>
<text x="41.6" y="382.00" text-anchor="end" font-size="9.5" class="n">0</text>
<line x1="45" y1="356.20" x2="47.8" y2="356.20" stroke="#8a8a8a" stroke-width="1"/>
<text x="41.6" y="360.00" text-anchor="end" font-size="9.5" class="n">200</text>
<line x1="45" y1="334.20" x2="47.8" y2="334.20" stroke="#8a8a8a" stroke-width="1"/>
<text x="41.6" y="338.00" text-anchor="end" font-size="9.5" class="n">400</text>
<line x1="45" y1="312.20" x2="47.8" y2="312.20" stroke="#8a8a8a" stroke-width="1"/>
<text x="41.6" y="316.00" text-anchor="end" font-size="9.5" class="n">600</text>
<line x1="45" y1="290.20" x2="47.8" y2="290.20" stroke="#8a8a8a" stroke-width="1"/>
<text x="41.6" y="294.00" text-anchor="end" font-size="9.5" class="n">800</text>
<line x1="45" y1="268.20" x2="47.8" y2="268.20" stroke="#8a8a8a" stroke-width="1"/>
<text x="41.6" y="272.00" text-anchor="end" font-size="9.5" class="n">1000</text>
<line x1="45" y1="246.20" x2="47.8" y2="246.20" stroke="#8a8a8a" stroke-width="1"/>
<text x="41.6" y="250.00" text-anchor="end" font-size="9.5" class="n">1200</text>
<line x1="45" y1="224.20" x2="47.8" y2="224.20" stroke="#8a8a8a" stroke-width="1"/>
<text x="41.6" y="228.00" text-anchor="end" font-size="9.5" class="n">1400</text>
<line x1="45.00" y1="375.4" x2="45.00" y2="378.2" stroke="#8a8a8a" stroke-width="1"/>
<text x="45.00" y="389.3" text-anchor="middle" font-size="9.5" class="n">0.0</text>
<line x1="108.50" y1="375.4" x2="108.50" y2="378.2" stroke="#8a8a8a" stroke-width="1"/>
<text x="108.50" y="389.3" text-anchor="middle" font-size="9.5" class="n">0.1</text>
<line x1="172.00" y1="375.4" x2="172.00" y2="378.2" stroke="#8a8a8a" stroke-width="1"/>
<text x="172.00" y="389.3" text-anchor="middle" font-size="9.5" class="n">0.2</text>
<line x1="235.50" y1="375.4" x2="235.50" y2="378.2" stroke="#8a8a8a" stroke-width="1"/>
<text x="235.50" y="389.3" text-anchor="middle" font-size="9.5" class="n">0.3</text>
<path d="M45.29,372.58 L45.4,371.9 L45.5,371.3 L45.6,370.6 L45.7,369.9 L45.8,369.3 L45.9,368.6 L46.0,368.0 L46.1,367.3 L46.3,366.7 L46.4,366.0 L46.5,365.3 L46.6,364.7 L46.7,364.0 L46.9,363.4 L47.0,362.7 L47.1,362.1 L47.2,361.4 L47.4,360.8 L47.5,360.1 L47.6,359.4 L47.8,358.8 L47.9,358.1 L48.0,357.5 L48.2,356.8 L48.3,356.2 L48.5,355.5 L48.6,354.9 L48.8,354.2 L48.9,353.6 L49.0,352.9 L49.2,352.3 L49.4,351.6 L49.5,351.0 L49.7,350.3 L49.8,349.7 L50.0,349.0 L50.1,348.4 L50.3,347.7 L50.5,347.1 L50.6,346.4 L50.8,345.8 L51.0,345.1 L51.1,344.5 L51.3,343.8 L51.5,343.2 L51.6,342.5 L51.8,341.9 L52.0,341.2 L52.2,340.6 L52.3,339.9 L52.5,339.3 L52.7,338.7 L52.9,338.0 L53.1,337.4 L53.3,336.7 L53.4,336.1 L53.6,335.4 L53.8,334.8 L54.0,334.2 L54.2,333.5 L54.4,332.9 L54.6,332.2 L54.8,331.6 L55.0,331.0 L55.2,330.3 L55.4,329.7 L55.6,329.0 L55.8,328.4 L56.0,327.8 L56.2,327.1 L56.4,326.5 L56.6,325.9 L56.9,325.2 L57.1,324.6 L57.3,324.0 L57.5,323.3 L57.7,322.7 L57.9,322.1 L58.2,321.4 L58.4,320.8 L58.6,320.2 L58.8,319.5 L59.1,318.9 L59.3,318.3 L59.5,317.7 L59.7,317.0 L60.0,316.4 L60.2,315.8 L60.4,315.1 L60.7,314.5 L60.9,313.9 L61.1,313.3 L61.4,312.6 L61.6,312.0 L61.9,311.4 L62.1,310.8 L62.4,310.2 L62.6,309.5 L62.8,308.9 L63.1,308.3 L63.3,307.7 L63.6,307.1 L63.8,306.4 L64.1,305.8 L64.4,305.2 L64.6,304.6 L64.9,304.0 L65.1,303.4 L65.4,302.7 L65.6,302.1 L65.9,301.5 L66.2,300.9 L66.4,300.3 L66.7,299.7 L67.0,299.1 L67.2,298.5 L67.5,297.8 L67.8,297.2 L68.0,296.6 L68.3,296.0 L68.6,295.4 L68.8,294.8 L69.1,294.2 L69.4,293.6 L69.7,293.0 L69.9,292.4 L70.2,291.7 L70.5,291.1 L70.8,290.5 L71.1,289.9 L71.3,289.3 L71.6,288.7 L71.9,288.1 L72.2,287.5 L72.5,286.9 L72.8,286.3 L73.0,285.7 L73.3,285.1 L73.6,284.5 L73.9,283.9 L74.2,283.3 L74.5,282.7 L74.8,282.1 L75.1,281.4 L75.4,280.8 L75.7,280.2 L76.0,279.6 L76.3,279.0 L76.6,278.4 L76.9,277.8 L77.2,277.2 L77.5,276.7 L77.8,276.1 L78.1,275.5 L78.4,274.9 L78.8,274.3 L79.1,273.7 L79.4,273.1 L79.7,272.5 L80.1,271.9 L80.4,271.4 L80.7,270.8 L81.1,270.2 L81.4,269.6 L81.7,269.1 L82.1,268.5 L82.4,267.9 L82.8,267.3 L83.2,266.8 L83.5,266.2 L83.9,265.7 L84.3,265.1 L84.6,264.5 L85.0,264.0 L85.4,263.5 L85.8,262.9 L86.2,262.4 L86.6,261.8 L87.0,261.3 L87.4,260.8 L87.8,260.2 L88.2,259.7 L88.6,259.2 L89.1,258.7 L89.5,258.2 L89.9,257.6 L90.4,257.1 L90.8,256.6 L91.3,256.2 L91.7,255.7 L92.2,255.2 L92.7,254.7 L93.2,254.3 L93.6,253.8 L94.1,253.3 L94.6,252.9 L95.1,252.5 L95.6,252.0 L96.1,251.6 L96.6,251.2 L97.2,250.8 L97.7,250.4 L98.2,250.0 L98.8,249.6 L99.3,249.3 L99.9,248.9 L100.4,248.6 L101.0,248.2 L101.6,247.9 L102.2,247.6 L102.7,247.3 L103.3,247.0 L103.9,246.8 L104.5,246.5 L105.2,246.2 L105.8,246.0 L106.4,245.8 L107.0,245.6 L107.7,245.4 L108.3,245.2 L109.0,245.0 L109.6,244.8 L110.3,244.7 L110.9,244.5 L111.6,244.4 L112.2,244.2 L112.9,244.1 L113.6,244.0 L114.3,243.9 L114.9,243.8 L115.6,243.7 L116.3,243.7 L117.0,243.6 L117.7,243.5 L118.3,243.5 L119.0,243.4 L119.7,243.4 L120.4,243.4 L121.1,243.4 L121.7,243.3 L122.4,243.3 L123.1,243.3 L123.8,243.3 L124.5,243.3 L125.1,243.4 L125.8,243.4 L126.5,243.4 L127.1,243.4 L127.8,243.5 L128.5,243.5 L129.1,243.6 L129.8,243.7 L130.4,243.7 L131.1,243.8 L131.7,243.9 L132.4,244.0 L133.0,244.1 L133.7,244.2 L134.3,244.4 L134.9,244.5 L135.6,244.7 L136.2,244.9 L136.9,245.0 L137.5,245.2 L138.1,245.4 L138.7,245.7 L139.4,245.9 L140.0,246.2 L140.6,246.4 L141.2,246.7 L141.8,247.0 L142.4,247.3 L143.0,247.6 L143.6,247.9 L144.2,248.3 L144.8,248.6 L145.3,249.0 L145.9,249.4 L146.5,249.8 L147.0,250.2 L147.5,250.6 L148.1,251.0 L148.6,251.4 L149.1,251.9 L149.6,252.4 L150.0,252.8 L150.5,253.3 L150.9,253.8 L151.3,254.3 L151.8,254.9 L152.1,255.4 L152.5,255.9 L152.8,256.5 L153.2,257.1 L153.5,257.7 L153.7,258.3 L154.0,258.9 L154.2,259.5 L154.4,260.1" fill="none" stroke="#454545" stroke-width="1.9" stroke-linecap="round" stroke-linejoin="round"/>
<path d="M45.24,372.65 L45.4,371.9 L45.5,371.2 L45.6,370.4 L45.8,369.7 L45.9,368.9 L46.0,368.2 L46.2,367.5 L46.3,366.7 L46.5,366.0 L46.6,365.3 L46.8,364.5 L46.9,363.8 L47.1,363.1 L47.2,362.3 L47.4,361.6 L47.6,360.9 L47.7,360.2 L47.9,359.4 L48.0,358.7 L48.2,358.0 L48.4,357.3 L48.6,356.5 L48.7,355.8 L48.9,355.1 L49.1,354.4 L49.3,353.7 L49.4,353.0 L49.6,352.2 L49.8,351.5 L50.0,350.8 L50.2,350.1 L50.4,349.4 L50.6,348.7 L50.8,348.0 L51.0,347.2 L51.2,346.5 L51.4,345.8 L51.6,345.1 L51.8,344.4 L52.0,343.7 L52.2,343.0 L52.4,342.3 L52.6,341.6 L52.8,340.9 L53.0,340.2 L53.2,339.5 L53.5,338.8 L53.7,338.0 L53.9,337.3 L54.1,336.6 L54.3,335.9 L54.6,335.2 L54.8,334.5 L55.0,333.8 L55.3,333.1 L55.5,332.4 L55.7,331.7 L56.0,331.0 L56.2,330.3 L56.5,329.6 L56.7,329.0 L57.0,328.3 L57.2,327.6 L57.4,326.9 L57.7,326.2 L58.0,325.5 L58.2,324.8 L58.5,324.1 L58.7,323.4 L59.0,322.7 L59.2,322.0 L59.5,321.3 L59.8,320.6 L60.0,319.9 L60.3,319.2 L60.6,318.5 L60.8,317.8 L61.1,317.1 L61.4,316.5 L61.7,315.8 L62.0,315.1 L62.2,314.4 L62.5,313.7 L62.8,313.0 L63.1,312.3 L63.4,311.6 L63.7,310.9 L64.0,310.2 L64.2,309.5 L64.5,308.9 L64.8,308.2 L65.1,307.5 L65.4,306.8 L65.7,306.1 L66.0,305.4 L66.3,304.7 L66.6,304.0 L67.0,303.3 L67.3,302.6 L67.6,302.0 L67.9,301.3 L68.2,300.6 L68.5,299.9 L68.9,299.2 L69.2,298.5 L69.5,297.9 L69.9,297.2 L70.2,296.5 L70.5,295.9 L70.9,295.2 L71.3,294.5 L71.6,293.9 L72.0,293.2 L72.3,292.6 L72.7,292.0 L73.1,291.3 L73.5,290.7 L73.9,290.1 L74.3,289.4 L74.7,288.8 L75.1,288.2 L75.5,287.6 L75.9,287.0 L76.4,286.4 L76.8,285.9 L77.3,285.3 L77.7,284.7 L78.2,284.2 L78.7,283.6 L79.1,283.1 L79.6,282.6 L80.1,282.0 L80.6,281.5 L81.2,281.0 L81.7,280.5 L82.2,280.1 L82.8,279.6 L83.3,279.1 L83.9,278.7 L84.4,278.2 L85.0,277.8 L85.6,277.4 L86.2,276.9 L86.8,276.5 L87.4,276.1 L88.0,275.7 L88.6,275.3 L89.3,274.9 L89.9,274.6 L90.5,274.2 L91.2,273.8 L91.8,273.5 L92.5,273.1 L93.1,272.8 L93.8,272.4 L94.5,272.1 L95.1,271.8 L95.8,271.5 L96.5,271.1 L97.2,270.8 L97.8,270.5 L98.5,270.2 L99.2,269.9 L99.9,269.6 L100.6,269.3 L101.3,269.0 L102.0,268.7 L102.7,268.4 L103.4,268.1 L104.1,267.9 L104.8,267.6 L105.5,267.3 L106.2,267.0 L106.9,266.8 L107.6,266.5 L108.3,266.2 L109.0,265.9 L109.7,265.7 L110.4,265.4 L111.1,265.1 L111.8,264.9 L112.5,264.6 L113.2,264.4 L113.9,264.1 L114.6,263.9 L115.3,263.6 L116.1,263.4 L116.8,263.1 L117.5,262.9 L118.2,262.6 L118.9,262.4 L119.6,262.2 L120.3,261.9 L121.0,261.7 L121.7,261.5 L122.4,261.3 L123.1,261.1 L123.9,260.9 L124.6,260.6 L125.3,260.4 L126.0,260.2 L126.7,260.0 L127.4,259.9 L128.1,259.7 L128.8,259.5 L129.6,259.3 L130.3,259.1 L131.0,259.0 L131.7,258.8 L132.4,258.6 L133.2,258.5 L133.9,258.3 L134.6,258.2 L135.3,258.0 L136.0,257.9 L136.8,257.7 L137.5,257.6 L138.2,257.5 L138.9,257.4 L139.7,257.2 L140.4,257.1 L141.1,257.0 L141.8,256.9 L142.6,256.8 L143.3,256.7 L144.0,256.6 L144.7,256.6 L145.5,256.5 L146.2,256.4 L146.9,256.4 L147.7,256.3 L148.4,256.3 L149.1,256.2 L149.9,256.2 L150.6,256.1 L151.4,256.1 L152.1,256.1 L152.8,256.1 L153.6,256.1 L154.3,256.1 L155.1,256.1 L155.8,256.1 L156.6,256.1 L157.3,256.1 L158.1,256.2 L158.8,256.2 L159.5,256.2 L160.3,256.3 L161.0,256.4 L161.8,256.4 L162.5,256.5 L163.3,256.6 L164.0,256.7 L164.8,256.8 L165.5,256.9 L166.2,257.0 L167.0,257.2 L167.7,257.3 L168.4,257.4 L169.2,257.6 L169.9,257.8 L170.6,257.9 L171.3,258.1 L172.1,258.3 L172.8,258.5 L173.5,258.8 L174.2,259.0 L174.9,259.2 L175.5,259.5 L176.2,259.8 L176.9,260.0 L177.6,260.3 L178.2,260.6 L178.9,261.0 L179.5,261.3 L180.2,261.6 L180.8,262.0 L181.5,262.4 L182.1,262.7 L182.7,263.1 L183.3,263.6 L183.9,264.0 L184.5,264.4 L185.0,264.9 L185.6,265.3 L186.2,265.8 L186.7,266.3 L187.2,266.8 L187.8,267.4 L188.3,267.9 L188.8,268.5 L189.3,269.0 L189.7,269.6 L190.2,270.3 L190.7,270.9 L191.1,271.5 L191.5,272.2 L191.9,272.9 L192.3,273.6" fill="none" stroke="#ee3c42" stroke-width="1.9" stroke-linecap="round" stroke-linejoin="round"/>
<path d="M45.21,372.85 L45.3,372.1 L45.5,371.3 L45.6,370.5 L45.8,369.7 L45.9,368.9 L46.1,368.1 L46.3,367.3 L46.4,366.5 L46.6,365.7 L46.8,364.9 L46.9,364.2 L47.1,363.4 L47.3,362.6 L47.5,361.8 L47.6,361.0 L47.8,360.3 L48.0,359.5 L48.2,358.7 L48.4,357.9 L48.6,357.2 L48.8,356.4 L49.0,355.6 L49.2,354.9 L49.4,354.1 L49.6,353.3 L49.8,352.6 L50.0,351.8 L50.2,351.0 L50.4,350.3 L50.7,349.5 L50.9,348.8 L51.1,348.0 L51.3,347.2 L51.6,346.5 L51.8,345.7 L52.0,345.0 L52.3,344.2 L52.5,343.5 L52.8,342.7 L53.0,342.0 L53.2,341.2 L53.5,340.5 L53.7,339.7 L54.0,339.0 L54.3,338.2 L54.5,337.5 L54.8,336.7 L55.0,336.0 L55.3,335.2 L55.6,334.5 L55.9,333.8 L56.1,333.0 L56.4,332.3 L56.7,331.5 L57.0,330.8 L57.2,330.1 L57.5,329.3 L57.8,328.6 L58.1,327.8 L58.4,327.1 L58.7,326.4 L59.0,325.6 L59.3,324.9 L59.6,324.2 L59.9,323.4 L60.2,322.7 L60.5,321.9 L60.8,321.2 L61.1,320.5 L61.5,319.7 L61.8,319.0 L62.1,318.3 L62.4,317.5 L62.7,316.8 L63.1,316.1 L63.4,315.3 L63.7,314.6 L64.1,313.9 L64.4,313.1 L64.7,312.4 L65.1,311.7 L65.4,310.9 L65.8,310.2 L66.1,309.5 L66.5,308.7 L66.8,308.0 L67.2,307.3 L67.5,306.6 L67.9,305.9 L68.3,305.1 L68.6,304.4 L69.0,303.7 L69.4,303.0 L69.8,302.3 L70.2,301.6 L70.6,300.9 L71.0,300.2 L71.4,299.5 L71.8,298.9 L72.2,298.2 L72.7,297.5 L73.1,296.8 L73.5,296.2 L74.0,295.5 L74.4,294.9 L74.9,294.3 L75.4,293.6 L75.8,293.0 L76.3,292.4 L76.8,291.8 L77.3,291.2 L77.8,290.6 L78.3,290.0 L78.8,289.4 L79.4,288.8 L79.9,288.3 L80.4,287.7 L81.0,287.2 L81.6,286.7 L82.1,286.1 L82.7,285.6 L83.3,285.1 L83.9,284.6 L84.5,284.2 L85.2,283.7 L85.8,283.2 L86.4,282.8 L87.1,282.4 L87.7,281.9 L88.4,281.5 L89.1,281.1 L89.8,280.7 L90.4,280.3 L91.1,279.9 L91.8,279.6 L92.6,279.2 L93.3,278.8 L94.0,278.5 L94.7,278.1 L95.4,277.8 L96.2,277.4 L96.9,277.1 L97.6,276.8 L98.4,276.4 L99.1,276.1 L99.9,275.8 L100.6,275.5 L101.4,275.2 L102.1,274.9 L102.9,274.6 L103.6,274.3 L104.4,274.0 L105.2,273.7 L105.9,273.4 L106.7,273.1 L107.4,272.8 L108.2,272.5 L108.9,272.2 L109.7,271.9 L110.4,271.6 L111.2,271.3 L111.9,271.0 L112.7,270.7 L113.4,270.4 L114.2,270.2 L114.9,269.9 L115.7,269.6 L116.4,269.3 L117.2,269.1 L117.9,268.8 L118.7,268.5 L119.4,268.3 L120.2,268.0 L120.9,267.7 L121.7,267.5 L122.4,267.2 L123.2,267.0 L123.9,266.7 L124.7,266.5 L125.4,266.3 L126.2,266.0 L126.9,265.8 L127.7,265.6 L128.4,265.4 L129.2,265.1 L130.0,264.9 L130.7,264.7 L131.5,264.5 L132.2,264.3 L133.0,264.1 L133.8,263.9 L134.5,263.8 L135.3,263.6 L136.1,263.4 L136.8,263.2 L137.6,263.1 L138.4,262.9 L139.1,262.8 L139.9,262.6 L140.7,262.5 L141.5,262.4 L142.2,262.3 L143.0,262.1 L143.8,262.0 L144.6,261.9 L145.4,261.8 L146.1,261.7 L146.9,261.7 L147.7,261.6 L148.5,261.5 L149.3,261.5 L150.1,261.4 L150.9,261.3 L151.7,261.3 L152.5,261.3 L153.3,261.2 L154.1,261.2 L154.9,261.2 L155.7,261.2 L156.5,261.1 L157.3,261.1 L158.1,261.1 L158.9,261.1 L159.7,261.1 L160.5,261.1 L161.3,261.1 L162.1,261.1 L162.9,261.1 L163.7,261.1 L164.5,261.2 L165.3,261.2 L166.2,261.2 L167.0,261.2 L167.8,261.2 L168.6,261.3 L169.4,261.3 L170.2,261.3 L171.0,261.3 L171.8,261.4 L172.6,261.4 L173.4,261.4 L174.2,261.4 L175.0,261.5 L175.8,261.5 L176.6,261.5 L177.4,261.6 L178.2,261.6 L178.9,261.7 L179.7,261.8 L180.5,261.8 L181.3,261.9 L182.1,262.0 L182.9,262.1 L183.6,262.2 L184.4,262.3 L185.2,262.4 L186.0,262.6 L186.7,262.7 L187.5,262.9 L188.3,263.1 L189.0,263.3 L189.8,263.5 L190.5,263.7 L191.3,264.0 L192.0,264.3 L192.7,264.5 L193.5,264.9 L194.2,265.2 L194.9,265.5 L195.7,265.9 L196.4,266.2 L197.1,266.6 L197.8,267.0 L198.5,267.4 L199.2,267.8 L199.9,268.3 L200.5,268.7 L201.2,269.1 L201.9,269.6 L202.5,270.1 L203.1,270.6 L203.8,271.0 L204.4,271.5 L205.0,272.1 L205.6,272.6 L206.2,273.1 L206.8,273.6 L207.4,274.2 L208.0,274.7 L208.5,275.3 L209.1,275.9 L209.6,276.4 L210.1,277.0 L210.7,277.6 L211.2,278.2 L211.6,278.8 L212.1,279.5 L212.6,280.1 L213.1,280.7" fill="none" stroke="#1e6fe0" stroke-width="1.9" stroke-linecap="round" stroke-linejoin="round"/>
<line x1="177.4" y1="343.6" x2="199.4" y2="343.6" stroke="#454545" stroke-width="1.9"/>
<text x="216.5" y="347.40" text-anchor="middle" font-size="9.4" class="n">30<tspan font-size="92%" dy="-1.6" style="stroke-width:0.1px">°</tspan><tspan dy="1.6">C/s</tspan></text>
<line x1="177.4" y1="355.2" x2="199.4" y2="355.2" stroke="#ee3c42" stroke-width="1.9"/>
<text x="216.5" y="359.00" text-anchor="middle" font-size="9.4" class="n">60<tspan font-size="92%" dy="-1.6" style="stroke-width:0.1px">°</tspan><tspan dy="1.6">C/s</tspan></text>
<line x1="177.4" y1="366.6" x2="199.4" y2="366.6" stroke="#1e6fe0" stroke-width="1.9"/>
<text x="216.5" y="370.40" text-anchor="middle" font-size="9.4" class="n">100<tspan font-size="92%" dy="-1.6" style="stroke-width:0.1px">°</tspan><tspan dy="1.6">C/s</tspan></text>
<text x="141" y="325" text-anchor="middle" font-size="11.0" class="b">Temperature : 900<tspan dx="-0.5" dy="0.5" style="stroke-width:0.4px">°</tspan><tspan dx="-0.2" dy="-0.5">C</tspan></text>
<text x="140.2" y="405.4" text-anchor="middle" font-size="10.7" class="b" clip-path="url(#clipc)">Engineering strain</text>
<text transform="translate(18.7,301.5) rotate(-90)" x="0" y="0" text-anchor="middle" font-size="10.7" class="b">Engineering stress (MPa)</text>
<text x="124.7" y="424.5" text-anchor="middle" font-size="12" class="b">(c)</text>
</svg>
</body></html>
